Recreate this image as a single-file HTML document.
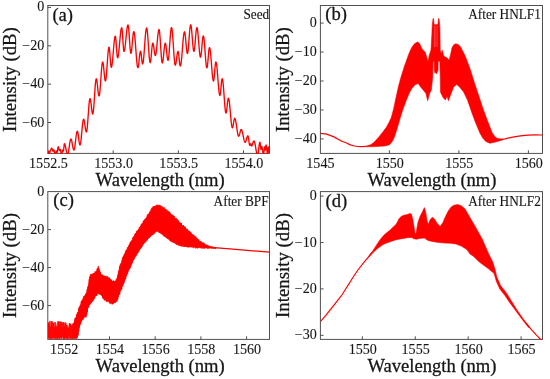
<!DOCTYPE html>
<html><head><meta charset="utf-8"><title>Spectra</title>
<style>html,body{margin:0;padding:0;background:#fff}svg{display:block}</style></head>
<body>
<svg width="550" height="379" viewBox="0 0 550 379">
<style>text{font-family:"Liberation Serif",serif;fill:#161616;stroke:#161616;stroke-width:.28px}.tk{font-size:14.1px;stroke-width:.1px}.ax{font-size:18.6px}.ay{font-size:18.8px}.pl{font-size:18.6px}.an{font-size:13.3px;stroke-width:.12px}</style>
<rect width="550" height="379" fill="#fff"/>
<defs>
<clipPath id="cpa"><rect x="47.8" y="5.5" width="221.7" height="148.4"/></clipPath>
<clipPath id="cpb"><rect x="320.4" y="5.5" width="222.1" height="148.4"/></clipPath>
<clipPath id="cpc"><rect x="47.8" y="191.6" width="221.7" height="148.3"/></clipPath>
<clipPath id="cpd"><rect x="320.4" y="191.6" width="222.1" height="148.3"/></clipPath>
</defs>
<rect x="47.8" y="5.5" width="221.7" height="147.9" fill="none" stroke="#505050" stroke-width="1"/>
<rect x="320.4" y="5.5" width="222.1" height="147.9" fill="none" stroke="#505050" stroke-width="1"/>
<rect x="47.8" y="191.6" width="221.7" height="147.8" fill="none" stroke="#505050" stroke-width="1"/>
<rect x="320.4" y="191.6" width="222.1" height="147.8" fill="none" stroke="#505050" stroke-width="1"/>
<text x="48.45" y="168.3" class="tk" text-anchor="middle">1552.5</text>
<line x1="113.2" y1="153.4" x2="113.2" y2="150.3" stroke="#505050" stroke-width="1"/>
<text x="113.6" y="168.3" class="tk" text-anchor="middle">1553.0</text>
<line x1="178.35" y1="153.4" x2="178.35" y2="150.3" stroke="#505050" stroke-width="1"/>
<text x="178.75" y="168.3" class="tk" text-anchor="middle">1553.5</text>
<line x1="243.5" y1="153.4" x2="243.5" y2="150.3" stroke="#505050" stroke-width="1"/>
<text x="243.9" y="168.3" class="tk" text-anchor="middle">1554.0</text>
<line x1="47.8" y1="7.45" x2="51" y2="7.45" stroke="#505050" stroke-width="1"/>
<text x="44.3" y="11.45" class="tk" text-anchor="end">0</text>
<line x1="47.8" y1="45.8" x2="51" y2="45.8" stroke="#505050" stroke-width="1"/>
<text x="44.3" y="49.8" class="tk" text-anchor="end">−20</text>
<line x1="47.8" y1="84.15" x2="51" y2="84.15" stroke="#505050" stroke-width="1"/>
<text x="44.3" y="88.15" class="tk" text-anchor="end">−40</text>
<line x1="47.8" y1="122.5" x2="51" y2="122.5" stroke="#505050" stroke-width="1"/>
<text x="44.3" y="126.5" class="tk" text-anchor="end">−60</text>
<text x="320.4" y="168.3" class="tk" text-anchor="middle">1545</text>
<line x1="389.4" y1="153.4" x2="389.4" y2="150.3" stroke="#505050" stroke-width="1"/>
<text x="389.8" y="168.3" class="tk" text-anchor="middle">1550</text>
<line x1="458.9" y1="153.4" x2="458.9" y2="150.3" stroke="#505050" stroke-width="1"/>
<text x="459.3" y="168.3" class="tk" text-anchor="middle">1555</text>
<line x1="528.4" y1="153.4" x2="528.4" y2="150.3" stroke="#505050" stroke-width="1"/>
<text x="528.8" y="168.3" class="tk" text-anchor="middle">1560</text>
<line x1="320.4" y1="23.1" x2="323.6" y2="23.1" stroke="#505050" stroke-width="1"/>
<text x="316.9" y="27.1" class="tk" text-anchor="end">0</text>
<line x1="320.4" y1="52.05" x2="323.6" y2="52.05" stroke="#505050" stroke-width="1"/>
<text x="316.9" y="56.05" class="tk" text-anchor="end">−10</text>
<line x1="320.4" y1="81" x2="323.6" y2="81" stroke="#505050" stroke-width="1"/>
<text x="316.9" y="85" class="tk" text-anchor="end">−20</text>
<line x1="320.4" y1="109.95" x2="323.6" y2="109.95" stroke="#505050" stroke-width="1"/>
<text x="316.9" y="113.95" class="tk" text-anchor="end">−30</text>
<line x1="320.4" y1="138.9" x2="323.6" y2="138.9" stroke="#505050" stroke-width="1"/>
<text x="316.9" y="142.9" class="tk" text-anchor="end">−40</text>
<line x1="63.8" y1="339.4" x2="63.8" y2="336.3" stroke="#505050" stroke-width="1"/>
<text x="64.2" y="354.3" class="tk" text-anchor="middle">1552</text>
<line x1="109.5" y1="339.4" x2="109.5" y2="336.3" stroke="#505050" stroke-width="1"/>
<text x="109.9" y="354.3" class="tk" text-anchor="middle">1554</text>
<line x1="155.2" y1="339.4" x2="155.2" y2="336.3" stroke="#505050" stroke-width="1"/>
<text x="155.6" y="354.3" class="tk" text-anchor="middle">1556</text>
<line x1="200.9" y1="339.4" x2="200.9" y2="336.3" stroke="#505050" stroke-width="1"/>
<text x="201.3" y="354.3" class="tk" text-anchor="middle">1558</text>
<line x1="246.6" y1="339.4" x2="246.6" y2="336.3" stroke="#505050" stroke-width="1"/>
<text x="247" y="354.3" class="tk" text-anchor="middle">1560</text>
<text x="44.3" y="195.6" class="tk" text-anchor="end">0</text>
<line x1="47.8" y1="229.6" x2="51" y2="229.6" stroke="#505050" stroke-width="1"/>
<text x="44.3" y="233.6" class="tk" text-anchor="end">−20</text>
<line x1="47.8" y1="267.6" x2="51" y2="267.6" stroke="#505050" stroke-width="1"/>
<text x="44.3" y="271.6" class="tk" text-anchor="end">−40</text>
<line x1="47.8" y1="305.6" x2="51" y2="305.6" stroke="#505050" stroke-width="1"/>
<text x="44.3" y="309.6" class="tk" text-anchor="end">−60</text>
<line x1="362.35" y1="339.4" x2="362.35" y2="336.3" stroke="#505050" stroke-width="1"/>
<text x="362.75" y="354.3" class="tk" text-anchor="middle">1550</text>
<line x1="415.25" y1="339.4" x2="415.25" y2="336.3" stroke="#505050" stroke-width="1"/>
<text x="415.65" y="354.3" class="tk" text-anchor="middle">1555</text>
<line x1="468.2" y1="339.4" x2="468.2" y2="336.3" stroke="#505050" stroke-width="1"/>
<text x="468.6" y="354.3" class="tk" text-anchor="middle">1560</text>
<line x1="521.1" y1="339.4" x2="521.1" y2="336.3" stroke="#505050" stroke-width="1"/>
<text x="521.5" y="354.3" class="tk" text-anchor="middle">1565</text>
<line x1="320.4" y1="196.1" x2="323.6" y2="196.1" stroke="#505050" stroke-width="1"/>
<text x="316.9" y="200.1" class="tk" text-anchor="end">0</text>
<line x1="320.4" y1="242.5" x2="323.6" y2="242.5" stroke="#505050" stroke-width="1"/>
<text x="316.9" y="246.5" class="tk" text-anchor="end">−10</text>
<line x1="320.4" y1="288.9" x2="323.6" y2="288.9" stroke="#505050" stroke-width="1"/>
<text x="316.9" y="292.9" class="tk" text-anchor="end">−20</text>
<line x1="320.4" y1="335.35" x2="323.6" y2="335.35" stroke="#505050" stroke-width="1"/>
<text x="316.9" y="339.35" class="tk" text-anchor="end">−30</text>
<text x="95.6" y="185.6" class="ax">Wavelength (nm)</text>
<text x="95.6" y="372" class="ax">Wavelength (nm)</text>
<text x="367.4" y="185.6" class="ax">Wavelength (nm)</text>
<text x="367.4" y="372" class="ax">Wavelength (nm)</text>
<text transform="translate(16,79.6) rotate(-90)" class="ay" text-anchor="middle">Intensity (dB)</text>
<text transform="translate(16,265.5) rotate(-90)" class="ay" text-anchor="middle">Intensity (dB)</text>
<text transform="translate(288.6,79.6) rotate(-90)" class="ay" text-anchor="middle">Intensity (dB)</text>
<text transform="translate(288.6,265.5) rotate(-90)" class="ay" text-anchor="middle">Intensity (dB)</text>
<text x="52.4" y="20.9" class="pl">(a)</text>
<text x="325.2" y="20.4" class="pl">(b)</text>
<text x="53.3" y="206.2" class="pl">(c)</text>
<text x="325.5" y="206.7" class="pl">(d)</text>
<text transform="translate(269.2,18.6) scale(1,1.06)" class="an" text-anchor="end">Seed</text>
<text transform="translate(540.9,18.8) scale(1,1.06)" class="an" text-anchor="end">After HNLF1</text>
<text transform="translate(268.6,205.8) scale(1,1.06)" class="an" text-anchor="end">After BPF</text>
<text transform="translate(540.9,205.5) scale(1,1.06)" class="an" text-anchor="end">After HNLF2</text>
<g clip-path="url(#cpa)"><polyline fill="none" stroke="#ff0000" stroke-width="1.35" stroke-linejoin="round" points="47.8,153 47.97,152.71 48.15,152 48.33,151.29 48.5,151 48.7,151.51 48.9,152.75 49.1,153.99 49.3,154.5 49.6,153.84 49.9,152.25 50.2,150.66 50.5,150 50.8,149.72 51.1,149.05 51.4,148.38 51.7,148.1 51.96,148.4 52.22,149.17 52.48,150.13 52.74,150.9 53,151.2 53.2,150.99 53.4,150.5 53.6,150.01 53.8,149.8 54.1,150.56 54.4,152.4 54.7,154.24 55,155 55.3,154.41 55.6,153 55.9,151.59 56.2,151 56.4,151.23 56.6,151.8 56.8,152.37 57,152.6 57.26,152.04 57.52,150.56 57.78,148.74 58.04,147.26 58.3,146.7 58.6,147.27 58.9,148.65 59.2,150.03 59.5,150.6 59.7,150.42 59.9,150 60.1,149.58 60.3,149.4 60.6,150.22 60.9,152.2 61.2,154.18 61.5,155 61.76,154.52 62.02,153.27 62.28,151.73 62.54,150.48 62.8,150 62.95,150.15 63.1,150.5 63.25,150.85 63.4,151 63.65,149.93 63.9,147.35 64.15,144.77 64.4,143.7 64.67,143.88 64.93,144.42 65.2,145.28 65.47,146.4 65.73,147.7 66,149.1 66.27,150.5 66.53,151.8 66.8,152.92 67.07,153.78 67.33,154.32 67.6,154.5 67.85,154.27 68.11,153.61 68.36,152.55 68.62,151.15 68.87,149.5 69.12,147.68 69.38,145.82 69.63,144 69.88,142.35 70.14,140.95 70.39,139.89 70.65,139.23 70.9,139 71.15,139.19 71.4,139.74 71.65,140.61 71.9,141.75 72.15,143.08 72.4,144.5 72.65,145.92 72.9,147.25 73.15,148.39 73.4,149.26 73.65,149.81 73.9,150 74.16,149.73 74.42,148.92 74.68,147.64 74.95,145.94 75.21,143.93 75.47,141.73 75.73,139.47 75.99,137.27 76.25,135.26 76.52,133.56 76.78,132.28 77.04,131.47 77.3,131.2 77.57,131.54 77.84,132.52 78.11,134.04 78.38,135.97 78.65,138.1 78.92,140.23 79.19,142.16 79.46,143.68 79.73,144.66 80,145 80.26,144.68 80.51,143.73 80.77,142.2 81.03,140.16 81.29,137.73 81.54,135.01 81.8,132.15 82.06,129.29 82.31,126.57 82.57,124.14 82.83,122.1 83.09,120.57 83.34,119.62 83.6,119.3 83.85,119.56 84.11,120.31 84.36,121.49 84.62,123.01 84.87,124.75 85.13,126.55 85.38,128.29 85.64,129.81 85.89,130.99 86.15,131.74 86.4,132 86.66,131.58 86.91,130.35 87.17,128.36 87.43,125.71 87.69,122.55 87.94,119.02 88.2,115.3 88.46,111.58 88.71,108.05 88.97,104.89 89.23,102.24 89.49,100.25 89.74,99.02 90,98.6 90.27,98.98 90.54,100.07 90.81,101.77 91.08,103.92 91.35,106.3 91.62,108.68 91.89,110.83 92.16,112.53 92.43,113.62 92.7,114 92.96,113.56 93.21,112.26 93.47,110.16 93.73,107.37 93.99,104.04 94.24,100.32 94.5,96.4 94.76,92.48 95.01,88.76 95.27,85.43 95.53,82.64 95.79,80.54 96.04,79.24 96.3,78.8 96.57,79.22 96.84,80.44 97.11,82.35 97.38,84.74 97.65,87.4 97.92,90.06 98.19,92.45 98.46,94.36 98.73,95.58 99,96 99.26,95.57 99.53,94.32 99.79,92.29 100.06,89.6 100.32,86.38 100.59,82.78 100.85,79 101.11,75.22 101.38,71.62 101.64,68.4 101.91,65.71 102.17,63.68 102.44,62.43 102.7,62 102.97,62.46 103.24,63.81 103.51,65.92 103.78,68.56 104.05,71.5 104.32,74.44 104.59,77.08 104.86,79.19 105.13,80.54 105.4,81 105.66,80.58 105.91,79.33 106.17,77.31 106.43,74.64 106.69,71.43 106.94,67.86 107.2,64.1 107.46,60.34 107.71,56.77 107.97,53.56 108.23,50.89 108.49,48.87 108.74,47.62 109,47.2 109.26,47.81 109.51,49.55 109.77,52.23 110.02,55.5 110.28,59 110.53,62.27 110.79,64.95 111.04,66.69 111.3,67.3 111.55,67 111.8,66.12 112.05,64.68 112.3,62.75 112.55,60.39 112.8,57.7 113.05,54.78 113.3,51.75 113.55,48.72 113.8,45.8 114.05,43.11 114.3,40.75 114.55,38.82 114.8,37.38 115.05,36.5 115.3,36.2 115.56,36.85 115.81,38.73 116.07,41.6 116.32,45.12 116.58,48.88 116.83,52.4 117.09,55.27 117.34,57.15 117.6,57.8 117.86,57.51 118.11,56.66 118.37,55.27 118.62,53.41 118.88,51.13 119.14,48.54 119.39,45.73 119.65,42.8 119.91,39.87 120.16,37.06 120.42,34.47 120.67,32.19 120.93,30.33 121.19,28.94 121.44,28.09 121.7,27.8 121.96,28.51 122.21,30.56 122.47,33.7 122.72,37.55 122.98,41.65 123.23,45.5 123.49,48.64 123.74,50.69 124,51.4 124.25,51.15 124.5,50.4 124.75,49.18 125,47.53 125.25,45.53 125.5,43.25 125.75,40.78 126,38.2 126.25,35.62 126.5,33.15 126.75,30.87 127,28.87 127.25,27.22 127.5,26 127.75,25.25 128,25 128.26,25.57 128.53,27.25 128.79,29.88 129.05,33.27 129.32,37.14 129.58,41.16 129.85,45.03 130.11,48.42 130.37,51.05 130.64,52.73 130.9,53.3 131.16,52.86 131.43,51.58 131.69,49.56 131.95,46.96 132.22,43.99 132.48,40.91 132.75,37.94 133.01,35.34 133.27,33.32 133.54,32.04 133.8,31.6 134.06,31.95 134.31,32.97 134.57,34.64 134.83,36.89 135.08,39.62 135.34,42.74 135.59,46.13 135.85,49.65 136.11,53.17 136.36,56.56 136.62,59.68 136.88,62.41 137.13,64.66 137.39,66.33 137.64,67.35 137.9,67.7 138.16,67.3 138.42,66.13 138.68,64.32 138.94,62.03 139.2,59.5 139.46,56.97 139.72,54.68 139.98,52.87 140.24,51.7 140.5,51.3 140.76,51.78 141.03,53.16 141.29,55.22 141.55,57.65 141.81,60.08 142.07,62.14 142.34,63.52 142.6,64 142.85,63.65 143.1,62.63 143.35,60.97 143.6,58.73 143.85,56 144.1,52.89 144.35,49.51 144.6,46 144.85,42.49 145.1,39.11 145.35,36 145.6,33.27 145.85,31.03 146.1,29.37 146.35,28.35 146.6,28 146.86,28.43 147.11,29.71 147.37,31.77 147.63,34.51 147.89,37.79 148.14,41.45 148.4,45.3 148.66,49.15 148.91,52.81 149.17,56.09 149.43,58.83 149.69,60.89 149.94,62.17 150.2,62.6 150.46,62.13 150.72,60.75 150.98,58.6 151.24,55.9 151.5,52.9 151.76,49.9 152.02,47.2 152.28,45.05 152.54,43.67 152.8,43.2 153.06,43.5 153.32,44.37 153.58,45.74 153.84,47.45 154.1,49.35 154.36,51.25 154.62,52.96 154.88,54.33 155.14,55.2 155.4,55.5 155.66,55.17 155.91,54.21 156.17,52.66 156.43,50.61 156.69,48.14 156.94,45.39 157.2,42.5 157.46,39.61 157.71,36.86 157.97,34.39 158.23,32.34 158.49,30.79 158.74,29.83 159,29.5 159.25,29.99 159.51,31.42 159.76,33.71 160.02,36.73 160.27,40.31 160.52,44.23 160.78,48.27 161.03,52.19 161.28,55.77 161.54,58.79 161.79,61.08 162.05,62.51 162.3,63 162.55,62.66 162.8,61.67 163.05,60.1 163.3,58.05 163.55,55.66 163.8,53.1 164.05,50.54 164.3,48.15 164.55,46.1 164.8,44.53 165.05,43.54 165.3,43.2 165.57,43.62 165.84,44.84 166.11,46.75 166.38,49.14 166.65,51.8 166.92,54.46 167.19,56.85 167.46,58.76 167.73,59.98 168,60.4 168.25,59.99 168.5,58.78 168.75,56.82 169,54.23 169.25,51.12 169.5,47.65 169.75,44 170,40.35 170.25,36.88 170.5,33.77 170.75,31.18 171,29.22 171.25,28.01 171.5,27.6 171.75,28.01 172.01,29.23 172.26,31.19 172.51,33.82 172.77,37 173.02,40.59 173.27,44.43 173.53,48.37 173.78,52.21 174.03,55.8 174.29,58.98 174.54,61.61 174.79,63.57 175.05,64.79 175.3,65.2 175.57,64.86 175.84,63.88 176.11,62.36 176.38,60.43 176.65,58.3 176.92,56.17 177.19,54.24 177.46,52.72 177.73,51.74 178,51.4 178.26,51.84 178.51,53.11 178.77,55.05 179.02,57.43 179.28,59.97 179.53,62.35 179.79,64.29 180.04,65.56 180.3,66 180.56,65.67 180.83,64.7 181.09,63.12 181.35,60.99 181.61,58.4 181.88,55.44 182.14,52.24 182.4,48.9 182.66,45.56 182.93,42.36 183.19,39.4 183.45,36.81 183.71,34.68 183.97,33.1 184.24,32.13 184.5,31.8 184.76,32.24 185.03,33.52 185.29,35.54 185.55,38.14 185.82,41.11 186.08,44.19 186.35,47.16 186.61,49.76 186.87,51.78 187.14,53.06 187.4,53.5 187.65,53.08 187.91,51.86 188.16,49.89 188.42,47.3 188.67,44.24 188.92,40.88 189.18,37.42 189.43,34.06 189.68,31 189.94,28.41 190.19,26.44 190.45,25.22 190.7,24.8 190.97,25.25 191.23,26.58 191.5,28.7 191.77,31.45 192.03,34.66 192.3,38.1 192.57,41.54 192.83,44.75 193.1,47.5 193.37,49.62 193.63,50.95 193.9,51.4 194.15,50.99 194.4,49.81 194.65,47.91 194.9,45.45 195.15,42.58 195.4,39.5 195.65,36.42 195.9,33.55 196.15,31.09 196.4,29.19 196.65,28.01 196.9,27.6 197.16,27.97 197.41,29.07 197.67,30.83 197.93,33.17 198.19,35.98 198.44,39.11 198.7,42.4 198.96,45.69 199.21,48.82 199.47,51.63 199.73,53.97 199.99,55.73 200.24,56.83 200.5,57.2 200.75,56.77 201.01,55.51 201.26,53.52 201.52,50.97 201.77,48.07 202.03,45.03 202.28,42.13 202.54,39.58 202.79,37.59 203.05,36.33 203.3,35.9 203.56,36.3 203.81,37.48 204.07,39.39 204.33,41.92 204.59,44.96 204.84,48.34 205.1,51.9 205.36,55.46 205.61,58.84 205.87,61.88 206.13,64.41 206.39,66.32 206.64,67.5 206.9,67.9 207.16,67.41 207.42,65.97 207.68,63.74 207.94,60.92 208.2,57.8 208.46,54.68 208.72,51.86 208.98,49.63 209.24,48.19 209.5,47.7 209.75,48.02 210,48.97 210.25,50.51 210.5,52.58 210.75,55.1 211,57.98 211.25,61.1 211.5,64.35 211.75,67.6 212,70.72 212.25,73.6 212.5,76.12 212.75,78.19 213,79.73 213.25,80.68 213.5,81 213.77,80.43 214.03,78.78 214.3,76.25 214.57,73.15 214.83,69.85 215.1,66.75 215.37,64.22 215.63,62.57 215.9,62 216.15,62.32 216.4,63.28 216.65,64.82 216.9,66.91 217.15,69.44 217.4,72.34 217.65,75.48 217.9,78.75 218.15,82.02 218.4,85.16 218.65,88.06 218.9,90.59 219.15,92.68 219.4,94.22 219.65,95.18 219.9,95.5 220.16,94.99 220.41,93.53 220.67,91.3 220.92,88.56 221.18,85.64 221.43,82.9 221.69,80.67 221.94,79.21 222.2,78.7 222.45,79.07 222.71,80.18 222.96,81.98 223.21,84.37 223.47,87.28 223.72,90.55 223.97,94.06 224.23,97.64 224.48,101.15 224.73,104.42 224.99,107.33 225.24,109.72 225.49,111.52 225.75,112.63 226,113 226.27,112.55 226.53,111.27 226.8,109.3 227.07,106.88 227.33,104.32 227.6,101.9 227.87,99.93 228.13,98.65 228.4,98.2 228.65,98.48 228.9,99.33 229.15,100.69 229.4,102.53 229.65,104.78 229.9,107.34 230.15,110.11 230.4,113 230.65,115.89 230.9,118.66 231.15,121.22 231.4,123.47 231.65,125.31 231.9,126.67 232.15,127.52 232.4,127.8 232.66,127.51 232.91,126.69 233.17,125.42 233.42,123.87 233.68,122.23 233.93,120.67 234.19,119.41 234.44,118.59 234.7,118.3 234.95,118.47 235.2,118.98 235.45,119.81 235.7,120.92 235.95,122.28 236.2,123.82 236.45,125.5 236.7,127.25 236.95,129 237.2,130.68 237.45,132.22 237.7,133.58 237.95,134.69 238.2,135.52 238.45,136.03 238.7,136.2 238.95,136.04 239.2,135.56 239.45,134.82 239.7,133.89 239.95,132.85 240.2,131.81 240.45,130.88 240.7,130.14 240.95,129.66 241.2,129.5 241.45,129.62 241.7,129.99 241.95,130.58 242.2,131.37 242.45,132.34 242.7,133.45 242.95,134.65 243.2,135.9 243.45,137.15 243.7,138.35 243.95,139.46 244.2,140.43 244.45,141.22 244.7,141.81 244.95,142.18 245.2,142.3 245.47,142.14 245.74,141.68 246.01,140.96 246.28,140.05 246.55,139.05 246.82,138.05 247.09,137.14 247.36,136.42 247.63,135.96 247.9,135.8 248.17,136.28 248.44,137.61 248.71,139.53 248.99,141.67 249.26,143.59 249.53,144.92 249.8,145.4 250.05,145.17 250.3,144.6 250.55,144.03 250.8,143.8 251,144.12 251.2,144.9 251.4,145.68 251.6,146 251.86,145.85 252.11,145.42 252.37,144.75 252.62,143.93 252.88,143.07 253.13,142.25 253.39,141.58 253.64,141.15 253.9,141 254.16,141.18 254.43,141.69 254.69,142.53 254.96,143.64 255.22,144.96 255.49,146.44 255.75,148 256.01,149.56 256.28,151.04 256.54,152.36 256.81,153.47 257.07,154.31 257.34,154.82 257.6,155 257.86,154.61 258.11,153.5 258.37,151.8 258.62,149.71 258.88,147.49 259.13,145.4 259.39,143.7 259.64,142.59 259.9,142.2 260.17,143.27 260.45,145.85 260.73,148.43 261,149.5 261.2,149.06 261.4,148 261.6,146.94 261.8,146.5 262.08,147.07 262.37,148.62 262.65,150.75 262.93,152.88 263.22,154.43 263.5,155 263.77,153.8 264.05,150.9 264.33,148 264.6,146.8 264.78,147.27 264.95,148.4 265.12,149.53 265.3,150 265.5,149.27 265.7,147.5 265.9,145.73 266.1,145 266.35,145.67 266.6,147.5 266.85,150 267.1,152.5 267.35,154.33 267.6,155 267.78,153.83 267.95,151 268.12,148.17 268.3,147 268.45,147.73 268.6,149.5 268.75,151.27 268.9,152 269.05,151.49 269.2,150.25 269.35,149.01 269.5,148.5"/></g>
<g clip-path="url(#cpb)">
<polyline fill="none" stroke="#ff0000" stroke-width="1.2" points="320.4,133.3 326.7,134.1 333.9,136.9 341.8,141.3 346,142.8 349.7,144.6 354.5,146 358,146.5 361.3,146.7 366.4,146.4"/>
<polygon fill="#ff0000" stroke="#ff0000" stroke-width="0.6" stroke-linejoin="round" points="366.4,146 370.6,144.8 373.3,142.9 376,140.2 378.8,137.1 382.6,132.2 386.4,127.2 388.8,122.8 391.3,117.6 393.6,108.9 396,97.6 398.5,86.3 400.9,77.5 404,67.5 406.2,61.3 408.8,54 411.6,47.8 414.4,43.8 417.6,41.9 419.6,43.6 421.7,48.2 423.4,50.5 425.1,51.9 426.4,56 428,61.8 429.3,55.1 431,50 431.9,34 432.2,26 433,19 433.5,18.3 434.1,24.4 436,24.8 437.9,24.4 438.6,18.3 439.2,19.5 439.9,28.5 440.2,50 441.2,54 442.3,50.2 443.4,55 444.5,56.8 447,57.8 449.1,60.2 450.6,54.5 452,47.8 453.8,44.8 455.8,43.8 458.2,44.6 460.5,46.8 465.4,56.4 470.3,69.5 474.8,84 478.7,95.6 482.5,107.2 486.7,118.8 490.3,128 492.2,132.7 494.5,136.2 496.9,138.2 500.3,139 503.3,139.7 499.2,140.9 494.5,142.3 489.9,143.2 485.8,141.4 482.9,138.2 480,133.3 475.4,122.3 471.6,111.9 467.6,100.3 463.6,92 459.6,87 456.5,84.4 453.6,87 450.8,94.3 448.4,100.8 447.1,96.2 445.3,99.9 443.4,98 440.6,92.5 440.2,76 439.9,61.5 438.2,61 438,70.5 437.2,72.3 436.5,74 435.7,71.8 435,73.2 434.3,70.5 434.1,61 433,61.5 432.8,76 431.4,89.7 429.6,93.4 427.7,100.8 425.9,93.4 423,89.7 420.6,87 418.2,83.4 415,84.8 412,88.2 409.3,93 406,101 402.5,110.5 400.2,118 398.6,123.5 396.8,129.5 395.3,134.4 393.8,138.5 392,141.8 389.4,144.8 385,145.9 376,146.6 366.4,146.8"/>
<polyline fill="none" stroke="#ff0000" stroke-width="1.2" points="500.3,139.4 505,138.9 512.6,137.1 520.3,135.9 527.9,135.2 535.5,134.9 542.5,135"/>
<line x1="434.5" y1="25.5" x2="434.5" y2="47" stroke="#fff" stroke-opacity="0.4" stroke-width="0.55"/>
<line x1="435.8" y1="25.5" x2="435.8" y2="47" stroke="#fff" stroke-opacity="0.3" stroke-width="0.55"/>
<line x1="437.2" y1="25.5" x2="437.2" y2="47" stroke="#fff" stroke-opacity="0.4" stroke-width="0.55"/>
</g>
<g clip-path="url(#cpc)">
<polygon fill="#ff0000" points="72.6,324.8 73.4,323.03 74.2,321.25 75,319.48 75.8,317.71 76.6,315.69 77.4,313.27 78.2,310.85 79,308.43 79.8,306 80.6,303.96 81.4,301.98 82.2,299.99 83,298.2 83.8,297 84.6,295.8 85.4,294.45 86.2,292.95 87,290.41 87.8,286.83 88.6,283.25 89.4,278.54 90.2,275.34 91,274.9 91.8,274.47 92.6,274.01 93.4,273.49 94.2,272.97 95,272.45 95.8,271.93 96.6,270.6 97.4,269 98.2,267.4 99,268.57 99.8,270.66 100.6,272.54 101.4,274.23 102.2,275.56 103,275.82 103.8,276.08 104.6,276.34 105.4,276.6 106.2,276.87 107,277.13 107.8,277.4 108.6,277.67 109.4,278 110.2,278.78 111,279.55 111.8,280.33 112.6,281.11 113.4,281.37 114.2,281.1 115,280.83 115.8,280.57 116.6,280.3 117.4,276.26 118.2,272.23 119,268.64 119.8,266.4 120.6,264.17 121.4,261.93 122.2,259.7 123,257.46 123.8,255.69 124.6,254.07 125.4,252.46 126.2,250.84 127,249.23 127.8,247.61 128.6,246 129.4,244.6 130.2,243.21 131,241.81 131.8,240.41 132.6,239.02 133.4,237.62 134.2,236.22 135,234.84 135.8,233.59 136.6,232.34 137.4,231.09 138.2,229.84 139,228.59 139.8,227.33 140.6,226.08 141.4,224.85 142.2,223.66 143,222.47 143.8,221.28 144.6,220.09 145.4,218.89 146.2,217.69 147,216.43 147.8,215.18 148.6,213.93 149.4,212.68 150.2,211.43 151,210.2 151.8,209 152.6,207.8 153.4,206.6 154.2,206.31 155,206.01 155.8,205.72 156.6,205.54 157.4,205.71 158.2,205.87 159,206.04 159.8,206.2 160.6,206.64 161.4,207.09 162.2,207.53 163,207.97 163.8,208.41 164.6,208.88 165.4,209.54 166.2,210.21 167,210.87 167.8,211.53 168.6,212.19 169.4,212.85 170.2,213.51 171,214.17 171.8,214.83 172.6,215.58 173.4,216.35 174.2,217.13 175,217.9 175.8,218.67 176.6,219.45 177.4,220.22 178.2,220.99 179,221.77 179.8,222.55 180.6,223.33 181.4,224.11 182.2,224.88 183,225.66 183.8,226.44 184.6,227.22 185.4,227.99 186.2,228.76 187,229.53 187.8,230.29 188.6,231.06 189.4,231.83 190.2,232.59 191,233.36 191.8,234.13 192.6,234.89 193.4,235.59 194.2,236.29 195,236.99 195.8,237.69 196.6,238.39 197.4,239.1 198.2,239.8 199,240.5 199.8,241.2 200.6,241.75 201.4,242.31 202.2,242.86 203,243.42 203.8,243.97 204.6,244.49 205.4,244.92 206.2,245.31 207,245.56 207.8,245.81 208.6,246.06 209.4,246.31 210.2,246.56 211,246.81 211.8,246.92 212.6,247.04 213.4,247.15 214.2,247.27 215,247.38 215.8,247.5 215.8,248.29 215,248.26 214.2,248.22 213.4,248.19 212.6,248.16 211.8,248.13 211,248.09 210.2,248.02 209.4,247.95 208.6,247.88 207.8,247.81 207,247.74 206.2,247.67 205.4,247.56 204.6,247.44 203.8,247.39 203,247.37 202.2,247.34 201.4,247.32 200.6,247.29 199.8,247.27 199,247.24 198.2,247.21 197.4,247.19 196.6,247.16 195.8,247.14 195,247.11 194.2,247.07 193.4,247 192.6,246.93 191.8,246.86 191,246.79 190.2,246.73 189.4,246.66 188.6,246.59 187.8,246.52 187,246.45 186.2,246.39 185.4,246.32 184.6,246.14 183.8,245.93 183,245.72 182.2,245.51 181.4,245.3 180.6,245.09 179.8,244.88 179,244.66 178.2,244.45 177.4,244.08 176.6,243.66 175.8,243.24 175,242.82 174.2,242.39 173.4,241.97 172.6,241.55 171.8,241.13 171,240.71 170.2,240.13 169.4,239.51 168.6,238.89 167.8,238.27 167,237.65 166.2,237.03 165.4,236.41 164.6,235.77 163.8,235.11 163,234.46 162.2,233.8 161.4,233.14 160.6,232.48 159.8,232.05 159,231.65 158.2,231.25 157.4,230.85 156.6,230.87 155.8,231.57 155,232.28 154.2,232.99 153.4,233.69 152.6,234.4 151.8,235.09 151,235.78 150.2,236.47 149.4,237.16 148.6,237.85 147.8,238.67 147,239.61 146.2,240.55 145.4,241.49 144.6,242.43 143.8,243.37 143,244.46 142.2,245.62 141.4,246.77 140.6,247.92 139.8,249.07 139,250.22 138.2,251.48 137.4,252.84 136.6,254.2 135.8,255.56 135,256.92 134.2,258.28 133.4,259.75 132.6,261.56 131.8,263.37 131,265.18 130.2,266.98 129.4,268.79 128.6,270.6 127.8,272.6 127,274.6 126.2,276.6 125.4,278.6 124.6,280.67 123.8,282.77 123,284.86 122.2,286.96 121.4,289.05 120.6,291.19 119.8,293.37 119,295.55 118.2,297.73 117.4,299.91 116.6,301.31 115.8,301.93 115,302.55 114.2,303.17 113.4,303.79 112.6,303.89 111.8,303.48 111,303.07 110.2,302.66 109.4,302.25 108.6,301.78 107.8,301.29 107,300.81 106.2,300.33 105.4,299.84 104.6,299.17 103.8,298.31 103,297.45 102.2,296.59 101.4,295.73 100.6,294.93 99.8,294.18 99,293.44 98.2,292.69 97.4,293.7 96.6,294.95 95.8,296.2 95,297.45 94.2,298.62 93.4,299.8 92.6,300.98 91.8,302.16 91,303.22 90.2,304.21 89.4,305.21 88.6,306.2 87.8,309.69 87,313.18 86.2,316 85.4,316.8 84.6,317.6 83.8,318.4 83,319.2 82.2,320 81.4,322.01 80.6,324.19 79.8,326.37 79,329.29 78.2,334.47 77.4,337.7 76.6,337.7 75.8,337.7 75,337.7 74.2,337.7 73.4,337.7 72.6,337.7"/>
<polyline fill="none" stroke="#ff0000" stroke-width="0.8" stroke-linejoin="round" points="47.8,322.29 48.16,338.25 48.52,322.68 48.88,338.15 49.24,323.56 49.6,338.57 49.96,320.87 50.32,338.89 50.68,326.62 51.04,337.89 51.4,321.15 51.76,338.88 52.12,321.3 52.48,338.26 52.84,322.55 53.2,337.82 53.56,322.96 53.92,338.62 54.28,327 54.64,337.63 55,322.02 55.36,338.87 55.72,325.04 56.08,338.42 56.44,326.77 56.8,338.72 57.16,326.38 57.52,338.4 57.88,321.35 58.24,338.63 58.6,321.43 58.96,337.49 59.32,321.55 59.68,338.88 60.04,325.58 60.4,338.29 60.76,321.96 61.12,337.81 61.48,321.85 61.84,338.63 62.2,327.51 62.56,337.09 62.92,322.41 63.28,337.82 63.64,322.19 64,338.65 64.36,326.13 64.72,338.87 65.08,322.41 65.44,337.93 65.8,323.64 66.16,338.21 66.52,325.01 66.88,338.79 67.24,327.81 67.6,338.75 67.96,326.49 68.32,336.87 68.68,327.83 69.04,338.84 69.4,323.07 69.76,337.64 70.12,323.85 70.48,338.59 70.84,323.66 71.2,338.69 71.56,325.79 71.92,338.61 72.28,328.77 72.64,338.63 73,324.36 73.36,338.45 73.72,323.57 74.08,337.07 74.44,325.34 74.8,337.97 75.16,318.19 75.52,337.01 75.88,319.73 76.24,337.83 76.6,316.36 76.96,336.7 77.32,312.41"/>
<polyline fill="none" stroke="#ff0000" stroke-width="0.6" stroke-opacity="0.8" stroke-linejoin="round" points="48,322.15 48.9,338.9 49.8,322.46 50.7,338.9 51.6,322.96 52.5,338.9 53.4,322.94 54.3,338.9 55.2,322.14 56.1,338.9 57,323.68 57.9,338.9 58.8,322.85 59.7,338.9 60.6,321.55 61.5,338.9 62.4,322.59 63.3,338.9 64.2,323.28 65.1,338.9 66,322.81 66.9,338.9 67.8,324.9 68.7,338.9 69.6,323.49 70.5,338.9 71.4,325.16 72.3,338.9 73.2,323.32 74.1,338.9 75,320.16 75.9,338.9 76.8,314.21"/>
<polyline fill="none" stroke="#ff0000" stroke-width="0.7" stroke-linejoin="round" points="72.6,324.33 72.93,338.27 73.26,323.37 73.59,336.94 73.92,323.2 74.25,338.89 74.58,321.3 74.91,337.84 75.24,318.15 75.57,338.79 75.9,317.02 76.23,338.64 76.56,314.73 76.89,338.18 77.22,313.86 77.55,336.47 77.88,312.03 78.21,335.44 78.54,308.62 78.87,331.17 79.2,306.94 79.53,327.39 79.86,305.81 80.19,324.71 80.52,305.18 80.85,323.16 81.18,301.42 81.51,320.67 81.84,300.23 82.17,319.42 82.5,300.42 82.83,320.36 83.16,298.3 83.49,318.38 83.82,295.99 84.15,316.74 84.48,295.74 84.81,316.35 85.14,295.76 85.47,317.23 85.8,293.5 86.13,317.26 86.46,293.12 86.79,315.14 87.12,289.12 87.45,312.29 87.78,286.62 88.11,308.1 88.44,285.14 88.77,307.14 89.1,279.4 89.43,304.8 89.76,276.42 90.09,304.52 90.42,274.42 90.75,302.53 91.08,273.87 91.41,302.99 91.74,274.37 92.07,302.09 92.4,274.1 92.73,301.09 93.06,273.11 93.39,300.18 93.72,273.52 94.05,299.41 94.38,274.07 94.71,298.29 95.04,271.32 95.37,295.88 95.7,271.59 96.03,295.84 96.36,272.18 96.69,296 97.02,268.75 97.35,294.55 97.68,267.74 98.01,292.37 98.34,266.01 98.67,294.14 99,268.31 99.33,294.31 99.66,270.03 99.99,294.31 100.32,272.02 100.65,294.99 100.98,274.18 101.31,294.98 101.64,275.75 101.97,295.26 102.3,274.62 102.63,298.15 102.96,274.88 103.29,298.9 103.62,276.76 103.95,299.58 104.28,275.65 104.61,300.18 104.94,276.66 105.27,300.88 105.6,276.34 105.93,299.94 106.26,275.87 106.59,301.75 106.92,276.91 107.25,302.04 107.58,276.3 107.91,300 108.24,278.65 108.57,300.56 108.9,277.32 109.23,302.59 109.56,277.85 109.89,303.7 110.22,279.07 110.55,303.31 110.88,279.84 111.21,304.24 111.54,279.77 111.87,302.89 112.2,281.01 112.53,304.45 112.86,281.31 113.19,303.32 113.52,280.42 113.85,302.9 114.18,281.78 114.51,302.01 114.84,281.14 115.17,303 115.5,281.01 115.83,302.33 116.16,279.25 116.49,301.37 116.82,278.24 117.15,301.33 117.48,276 117.81,299.42 118.14,273.93 118.47,296.51 118.8,270.52 119.13,294.79 119.46,266.45 119.79,294.41 120.12,264.85 120.45,290.58 120.78,263.46 121.11,289.96 121.44,263.2 121.77,289.24 122.1,259.48 122.43,286.49 122.76,257.02 123.09,285.44 123.42,255.98 123.75,283.8 124.08,254.5 124.41,282.21 124.74,253.4 125.07,279.94 125.4,251.49 125.73,278.97 126.06,250.01 126.39,276.32 126.72,249.6 127.05,274.58 127.38,247.29 127.71,273.66 128.04,247.46 128.37,271.29 128.7,245.58 129.03,269.96 129.36,244.19 129.69,269 130.02,242.45 130.35,267.8 130.68,241.6 131.01,266.21 131.34,240.69 131.67,264.43 132,240.46 132.33,263.25 132.66,237.76 132.99,261.31 133.32,236.87 133.65,259.93 133.98,236.1 134.31,259.21 134.64,234.43 134.97,257.2 135.3,233.18 135.63,256.74 135.96,232.89 136.29,255.91 136.62,231.14 136.95,254.23 137.28,230.41 137.61,253.47 137.94,230.04 138.27,252.52 138.6,229.15 138.93,251.42 139.26,227.38 139.59,250.33 139.92,226.76 140.25,249.16 140.58,225.91 140.91,248.43 141.24,223.93 141.57,247.7 141.9,223.55 142.23,246.6 142.56,222.99 142.89,245.2 143.22,220.97 143.55,244.2 143.88,220.17 144.21,243.37 144.54,219.3 144.87,242.82 145.2,219.39 145.53,242.21 145.86,218.14 146.19,241.48 146.52,217.42 146.85,240.75 147.18,215.27 147.51,239.95 147.84,214.04 148.17,238.99 148.5,214.09 148.83,238.08 149.16,213.16 149.49,237.87 149.82,211.43 150.15,237.11 150.48,210.92 150.81,236.33 151.14,208.82 151.47,235.56 151.8,207.83 152.13,235.26 152.46,207.61 152.79,234.65 153.12,206.38 153.45,234.64 153.78,206.78 154.11,233.82 154.44,205.97 154.77,233.39 155.1,205.96 155.43,232.25 155.76,205.73 156.09,231.93 156.42,204.87 156.75,231.63 157.08,204.84 157.41,230.87 157.74,204.91 158.07,232.08 158.4,204.94 158.73,232.53 159.06,204.9 159.39,232.97 159.72,205 160.05,232.34 160.38,205.33 160.71,233.67 161.04,205.84 161.37,234.21 161.7,206.16 162.03,234.09 162.36,206.66 162.69,235.03 163.02,206.97 163.35,235.73 163.68,207.76 164.01,236.38 164.34,207.52 164.67,236.77 165,208.59 165.33,236.37 165.66,209.38 165.99,237.71 166.32,209.43 166.65,238.04 166.98,209.73 167.31,238.95 167.64,211.47 167.97,238.42 168.3,210.93 168.63,239.33 168.96,211.29 169.29,239.75 169.62,211.86 169.95,241.11 170.28,212.87 170.61,241.14 170.94,214.17 171.27,241.75 171.6,214.86 171.93,242.3 172.26,214.65 172.59,241.85 172.92,214.94 173.25,242.91 173.58,215.8 173.91,242.78 174.24,216.01 174.57,242.65 174.9,217.79 175.23,243.89 175.56,218.17 175.89,244.14 176.22,217.88 176.55,244.74 176.88,219.25 177.21,244.74 177.54,219.39 177.87,244.9 178.2,219.98 178.53,245.54 178.86,221.9 179.19,245.71 179.52,222.26 179.85,246.06 180.18,222.58 180.51,245.98 180.84,223.56 181.17,246.32 181.5,223.09 181.83,246.59 182.16,225.05 182.49,246.19 182.82,225.33 183.15,246.75 183.48,225.32 183.81,246.46 184.14,227.12 184.47,246.77 184.8,226.21 185.13,246.88 185.46,226.89 185.79,246.73 186.12,228.66 186.45,246.82 186.78,229.47 187.11,247.27 187.44,228.82 187.77,247.3 188.1,230.32 188.43,246.68 188.76,230.77 189.09,247.7 189.42,231.31 189.75,246.82 190.08,231.59 190.41,246.79 190.74,231.98 191.07,247.52 191.4,233.18 191.73,246.87 192.06,234.34 192.39,247.23 192.72,234.01 193.05,247.67 193.38,235.56 193.71,248.2 194.04,234.96 194.37,247.19 194.7,236.35 195.03,247.58 195.36,236.45 195.69,248.33 196.02,236.81 196.35,248.09 196.68,237.91 197.01,248.23 197.34,238.49 197.67,248.39 198,239.27 198.33,247.89 198.66,239.48 198.99,247.78 199.32,240.61 199.65,247.27 199.98,241.33 200.31,248.17 200.64,241.22 200.97,248.09 201.3,241.43 201.63,248.51 201.96,242.34 202.29,248.1 202.62,242.79 202.95,248.55 203.28,242.46 203.61,248.38 203.94,242.88 204.27,248.52 204.6,243.49 204.93,248.59 205.26,244.62 205.59,248.05 205.92,244.46 206.25,248.21 206.58,244.86 206.91,248.19 207.24,244.82 207.57,248.6 207.9,245.13 208.23,248.59 208.56,245.87 208.89,248.51 209.22,245.84 209.55,248.24 209.88,245.94 210.21,248.22 210.54,246.27 210.87,248.29 211.2,246.72 211.53,248.54 211.86,246.59 212.19,248.29 212.52,246.61 212.85,248.36 213.18,246.71 213.51,248.56 213.84,247.13 214.17,248.59 214.5,247.13 214.83,248.6 215.16,247.1 215.49,248.58 215.82,247.21 216.15,248.46"/>
<polyline fill="none" stroke="#ff0000" stroke-width="1.25" points="214,247.6 230,248.9 250,250.6 269.5,252.2"/>
</g>
<g clip-path="url(#cpd)">
<polyline fill="none" stroke="#ff0000" stroke-width="1.2" points="320.4,321.6 325.6,315.6 330.8,309.2 336.1,302.4 341.9,295 345.8,288.8 353.2,277 357.9,270 363.7,262.7 369,256.4 372,252.4"/>
<polygon fill="#ff0000" stroke="#ff0000" stroke-width="0.6" stroke-linejoin="round" points="369,255.9 372.7,250.9 375.3,246.9 378,242.7 380.6,239 383.8,235.3 386.9,232.6 390,230.2 393.4,226.8 396,224.4 397.6,221.6 399.2,218.4 401.2,216.5 403.6,215.3 407.3,214.6 410,213.4 411.5,214.3 412.8,219.6 414.2,228 415.2,234.2 416.2,232.4 417.9,222.7 419.7,217.2 422.5,211.6 424.4,207.6 425.6,211.6 427.1,220.9 428.4,224.6 429.9,220 432.3,217.2 434.5,219 437.3,223.6 440.1,226.4 442.8,222.7 445.6,216.3 448.4,210.7 451.2,207 453.9,205.2 457.6,204.6 461.3,205.7 465,208.9 469.8,217.2 474.6,225.4 482.3,239.2 488.5,253.4 492.6,261.8 494.8,268.6 496.8,276.8 500.4,285.2 506.6,293.2 511.4,301 517,310 523.3,319 529.5,327 528.5,327.4 521.8,319 515.2,310 509.6,302.5 504.6,295 499.8,289 496.4,281.5 494.1,273.5 488.5,268.8 479.3,262 473.7,256.4 470,254 466.9,249.6 461.3,246.1 455.8,243.9 450.2,243.2 444.7,243 439.1,242.6 433.6,241.7 429,240.8 427.1,239.9 424.4,238 419.7,238.4 416.5,239.2 413.7,238.8 411.9,237.4 407.3,237.8 401.7,238.7 396.2,239.7 390,241.8 385.9,243.2 382.7,244.8 379.6,246.9 376.4,249.5 372.7,252.9 369,256.9"/>
<polyline fill="none" stroke="#ff0000" stroke-width="1.2" points="526,323.2 531,329.2 536,334.6 540.6,339.3 542.5,341.4"/>
</g>
</svg>
</body></html>
